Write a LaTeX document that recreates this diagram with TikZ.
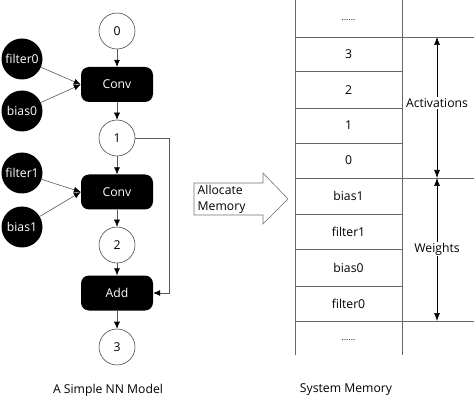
\documentclass[tikz,border=0pt]{standalone}
\usepackage{fontspec}
\setmainfont{Open Sans}
\usetikzlibrary{arrows.meta}
\begin{document}
\begin{tikzpicture}[x=1pt,y=-1pt,
  font=\fontsize{12.2}{14}\selectfont,
  wc/.style={circle,draw=black!70,line width=0.6pt,fill=white,minimum size=36pt,inner sep=0pt},
  bc/.style={circle,fill=black,text=white,minimum size=41pt,inner sep=0pt},
  op/.style={rectangle,rounded corners=8pt,fill=black,text=white,minimum width=72pt,minimum height=35pt,inner sep=0pt},
  arr/.style={draw=black!65,line width=0.6pt,-{Latex[length=7pt,width=6pt,color=black]}},
  dim/.style={draw=black,line width=0.6pt,{Latex[length=8pt,width=6pt]}-{Latex[length=8pt,width=6pt]}},
  mem/.style={draw=black!60,line width=0.6pt},
  dots/.style={font=\fontsize{8.5}{10}\selectfont},
  lbl/.style={inner sep=1pt}
]
\useasboundingbox (0,0) rectangle (474,406);

% ---- left: NN model ----
\node[wc] (n0) at (117,31) {0};
\node[op] (conv1) at (117,84.5) {Conv};
\node[wc] (n1) at (117,138) {1};
\node[op] (conv2) at (117,192) {Conv};
\node[wc] (n2) at (117,245) {2};
\node[op] (add) at (117,293) {Add};
\node[wc] (n3) at (117,347) {3};

\node[bc] (f0) at (22,59) {filter0};
\node[bc] (b0) at (22,111) {bias0};
\node[bc] (f1) at (22,173) {filter1};
\node[bc] (b1) at (22,227) {bias1};

\draw[arr] (n0) -- (conv1);
\draw[arr] (conv1) -- (n1);
\draw[arr] (n1) -- (conv2);
\draw[arr] (conv2) -- (n2);
\draw[arr] (n2) -- (add);
\draw[arr] (add) -- (n3);
\draw[arr] (f0) -- (conv1.west);
\draw[arr] (b0) -- (conv1.west);
\draw[arr] (f1) -- (conv2.west);
\draw[arr] (b1) -- (conv2.west);
\draw[arr] (n1.east) -- ++(34,0) |- (add.east);

\node (cap1) at (108,390) {A Simple NN Model};

% ---- allocate arrow ----
\draw[draw=black!55,line width=0.6pt,fill=white]
  (194,183) -- (263,183) -- (263,173) -- (288,199) -- (263,224) -- (263,215) -- (194,215) -- cycle;
\node[align=left,anchor=west,inner sep=0pt,font=\fontsize{12.2}{16}\selectfont] (alloc) at (197.5,199.5) {Allocate\\Memory};

% ---- memory ----
\draw[mem] (295,0) -- (295,355);
\draw[mem] (402,0) -- (402,355);
\foreach \y in {71,108,143,214,249,286} {\draw[mem] (295,\y) -- (402,\y);}
\foreach \y in {37,178,321} {\draw[mem] (295,\y) -- (474,\y);}

\node[dots] (m0) at (348.5,20) {......};
\node (m1) at (348.5,54) {3};
\node (m2) at (348.5,90) {2};
\node (m3) at (348.5,125.5) {1};
\node (m4) at (348.5,160.5) {0};
\node (m5) at (348.5,196) {bias1};
\node (m6) at (348.5,231.5) {filter1};
\node (m7) at (348.5,267.5) {bias0};
\node (m8) at (348.5,303.5) {filter0};
\node[dots] (m9) at (348.5,340) {......};

\coordinate (aTop) at (437,37);
\coordinate (aMid) at (437,178);
\coordinate (aBot) at (437,321);
\draw[dim] (aTop) -- (aMid);
\draw[dim] (aMid) -- (aBot);
\node[lbl,fill=white] (act) at (437,103) {Activations};
\node[lbl,fill=white] (wts) at (437,249) {Weights};

\node (cap2) at (346,390) {System Memory};
\end{tikzpicture}
\end{document}
